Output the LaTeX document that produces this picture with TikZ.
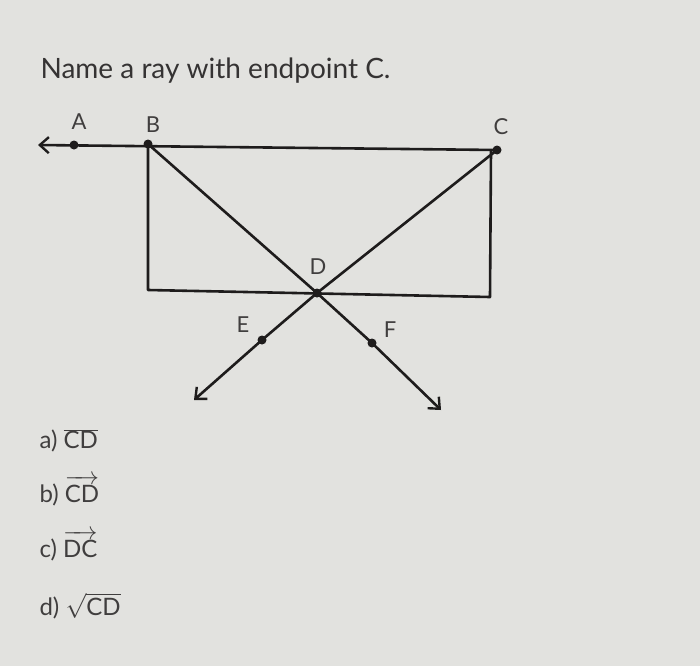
\documentclass[tikz,border=0pt]{standalone}
\usepackage{fontspec}
\setmainfont{Lato}
\usetikzlibrary{calc,arrows.meta}
\definecolor{paper}{RGB}{226,226,223}
\definecolor{ink}{RGB}{30,28,28}
\tikzset{
  seg/.style={line width=2.6pt, color=ink, line join=round},
  ray/.style={seg, -{Straight Barb[length=9pt, width=16pt, line width=2.4pt]}},
  dot/.style={circle, fill=ink, inner sep=0pt, minimum size=9pt},
  lbl/.style={font=\fontsize{22}{22}\selectfont, text=ink!85},
  choice/.style={font=\fontsize{24}{24}\selectfont, text=ink!85, anchor=west}
}
\newcommand{\capstrut}{\rule{0pt}{19pt}}

\begin{document}
\begin{tikzpicture}[x=1pt, y=-1pt]
			%%%%% START %%%%%
			\fill[paper] (0, 0) rectangle (700, 666);
			
			\node[font=\fontsize{28}{28}\selectfont, text=ink!90, anchor=base west] (title) at (37, 79) {Name a ray with endpoint C.};
			
			% points
			\coordinate (tipA) at (38, 145);
			\coordinate (A) at (74, 145);
			\coordinate (B) at (148, 144);
			\coordinate (C) at (497, 150);
			\coordinate (BL) at (148, 290);
			\coordinate (BR) at (490, 297);
			\coordinate (TR) at (491, 150);
			\coordinate (D) at (317, 293);
			\coordinate (E) at (262, 340);
			\coordinate (F) at (372, 343);
			\coordinate (tipE) at (194, 400);
			\coordinate (tipF) at (441, 410);
			
			% rectangle
			\draw[seg] (B) -- (BL) -- (BR) -- (TR);
			\draw[ray] (C) -- (tipA);
			
			% the two crossing rays
			\draw[ray] (B) -- (D) -- (F) -- (tipF);
			\draw[ray] (C) -- (D) -- (E) -- (tipE);
			
			\foreach \p in {A, B, C, D, E, F}
				\node[dot] at (\p) {};
			
			% labels
			\node[lbl] (labA) at (79, 122) {A};
			\node[lbl] (labB) at (153, 125) {B};
			\node[lbl] (labC) at (501, 127) {C};
			\node[lbl] (labD) at (318, 267) {D};
			\node[lbl] (labE) at (243, 325) {E};
			\node[lbl] (labF) at (390, 330) {F};
			
			% answers
			\node[choice] (optA) at (36, 441) {a) $\overline{\mbox{CD}}$};
			\node[choice] (optB) at (36, 491) {b) $\overrightarrow{\mbox{CD}\capstrut}$};
			\node[choice] (optC) at (36, 546) {c) $\overrightarrow{\mbox{DC}\capstrut}$};
			\node[choice] (optD) at (36, 606) {d) $\sqrt{\mbox{CD}}$};
			%%%%% END %%%%%
\end{tikzpicture}
\end{document}
